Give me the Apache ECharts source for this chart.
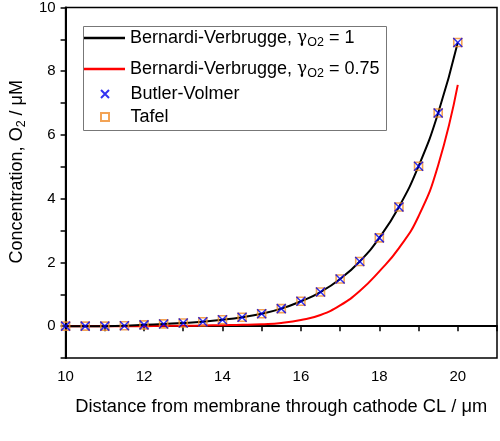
<!DOCTYPE html>
<html><head><meta charset="utf-8">
<script src="https://cdn.jsdelivr.net/npm/echarts@6/dist/echarts.min.js"></script>
<style>html,body{margin:0;padding:0;background:#fff}#c{width:500px;height:441px}</style>
</head><body><div id="c"></div>
<script>
var xs = [10,10.5,11,11.5,12,12.5,13,13.5,14,14.5,15,15.5,16,16.5,17,17.5,18,18.5,19,19.5,20];
var bv1 = [0,0,0,0.01,0.04,0.07,0.1,0.14,0.2,0.28,0.39,0.55,0.78,1.07,1.48,2.03,2.77,3.74,5.02,6.69,8.9];
var bv075 = [0,0,0,0,0,0.01,0.01,0.02,0.03,0.04,0.06,0.1,0.19,0.35,0.65,1.1,1.72,2.45,3.45,5.05,7.57];
var butlerVolmer = [0,0,0,0.01,0.04,0.07,0.1,0.14,0.2,0.28,0.39,0.55,0.78,1.07,1.48,2.03,2.77,3.74,5.02,6.69,8.9];
var tafel = [0,0,0,0.01,0.04,0.07,0.1,0.14,0.2,0.28,0.39,0.55,0.78,1.07,1.48,2.03,2.77,3.74,5.02,6.69,8.9];
var names = ['Bernardi-Verbrugge, γO2 = 1','Bernardi-Verbrugge, γO2 = 0.75','Butler-Volmer','Tafel'];
var xTicks = [10,12,14,16,18,20];
var yTicks = [0,2,4,6,8,10];

function pairs(x, y){ return x.map(function(v,i){return [v,y[i]];}); }
var font = 'Liberation Sans, Arial, sans-serif';
var crossPath = 'path://M0,0L10,10M10,0L0,10';
var squarePath = 'path://M0,0L10,0L10,10L0,10Z';
var chart = echarts.init(document.getElementById('c'));
var legText = {
  fontFamily: font, fontSize: 18, color: '#000',
  rich: {
    a: {fontFamily: font, fontSize: 18, color:'#000'},
    g: {fontFamily: 'DejaVu Serif, serif', fontSize: 17, color:'#000'},
    s: {fontFamily: font, fontSize: 12.5, color:'#000', padding:[9,0,0,0]}
  }
};
function legFmt(n){
  if (n.indexOf('γO2') >= 0) {
    var parts = n.split('γO2');
    return '{a|' + parts[0] + '}{g|γ}{s|O2}{a|' + parts[1] + '}';
  }
  return '{a|' + n + '}';
}
chart.setOption({
  animation: false,
  grid: {left: 61, right: 2, top: 6, bottom: 83, show: true, borderColor: '#000', borderWidth: 1.5},
  legend: [{
    data: [{name: names[0], icon: 'rect'}, {name: names[1], icon: 'rect'}],
    orient: 'vertical', left: 84, top: 29, itemWidth: 41, itemHeight: 2.5,
    itemGap: 11, padding: 0, selectedMode: false, textStyle: legText, formatter: legFmt
  },{
    data: [{name: names[2], icon: crossPath}, {name: names[3], icon: squarePath}],
    orient: 'vertical', left: 100, top: 85, itemWidth: 41, itemHeight: 8,
    itemGap: 5, padding: 0, selectedMode: false, textStyle: legText, formatter: legFmt
  }],
  graphic: [{type:'rect', left: 81, top: 24, shape:{width: 303, height: 104}, style:{fill:'none', stroke:'#777', lineWidth:1}, z: 10}],
  xAxis: {
    type: 'value', min: 10, max: 21, interval: 1,
    axisLine: {show: true, lineStyle: {color: '#000', width: 2}},
    axisTick: {show: true, length: 5, lineStyle: {color:'#000', width: 1.5}},
    splitLine: {show: false},
    axisLabel: {fontFamily: font, fontSize: 15, color: '#000', margin: 11,
      formatter: function(v){ return xTicks.indexOf(v) >= 0 ? String(v) : ''; }},
    name: 'Distance from membrane through cathode CL / μm', nameLocation: 'middle', nameGap: 40,
    nameTextStyle: {fontFamily: font, fontSize: 18.3, color: '#000'}
  },
  yAxis: {
    type: 'value', min: -1, max: 10, interval: 1,
    axisLine: {show: true, lineStyle: {color: '#000', width: 2}},
    axisTick: {show: true, length: 5, lineStyle: {color:'#000', width: 1.5}},
    splitLine: {show: false},
    axisLabel: {fontFamily: font, fontSize: 15, color: '#000', margin: 10,
      formatter: function(v){ return yTicks.indexOf(v) >= 0 ? String(v) : ''; }},
    name: '{a|Concentration, O}{s|2}{a| / μM}', nameLocation: 'middle', nameGap: 36, nameRotate: 90,
    nameTextStyle: {fontFamily: font, fontSize: 18, color: '#000', padding: [0, 0, 0, 22],
      rich: {a:{fontFamily: font, fontSize: 18, color:'#000'}, s:{fontFamily: font, fontSize: 12.5, color:'#000', padding:[9,0,0,0]}}}
  },
  series: [
    {name: names[0], type: 'line', data: pairs(xs, bv1), symbol: 'none', smooth: true,
      lineStyle: {color: '#000', width: 2}, itemStyle: {color: '#000'}, z: 3},
    {name: names[1], type: 'line', data: pairs(xs, bv075), symbol: 'none', smooth: true,
      lineStyle: {color: '#ff0000', width: 2}, itemStyle: {color: '#ff0000'}, z: 2},
    {name: names[2], type: 'scatter', data: pairs(xs, butlerVolmer), symbol: crossPath, symbolSize: 9,
      itemStyle: {color: 'rgba(0,0,0,0)', borderColor: '#0000ee', borderWidth: 1.5}, z: 6},
    {name: names[3], type: 'scatter', data: pairs(xs, tafel), symbol: squarePath, symbolSize: 8,
      itemStyle: {color: 'rgba(0,0,0,0)', borderColor: '#f08c2a', borderWidth: 1.6}, z: 5}
  ]
});
</script></body></html>
